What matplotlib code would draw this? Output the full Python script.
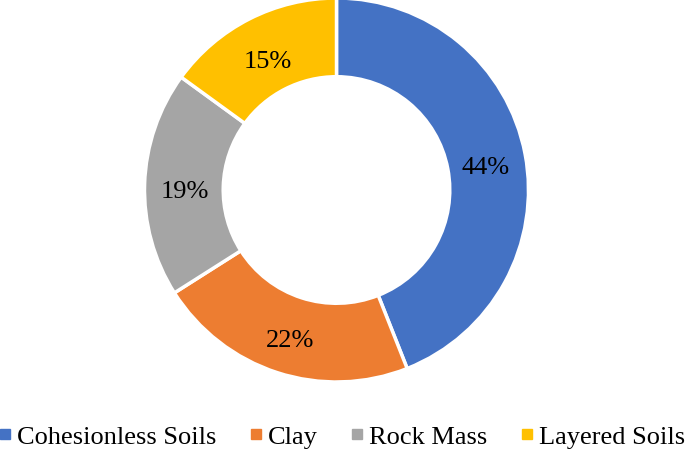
import matplotlib.pyplot as plt
from matplotlib.lines import Line2D

plt.rcParams['font.family'] = ['Liberation Serif', 'DejaVu Serif']

categories = ["Cohesionless Soils", "Clay", "Rock Mass", "Layered Soils"]
shares = [44, 22, 19, 15]
colors = ["#4472C4", "#ED7D31", "#A5A5A5", "#FFC000"]


def main():
    fig = plt.figure(figsize=(6.85, 4.52), dpi=100)
    # square axes sized to the outer ring (radius ~192 px)
    ax = fig.add_axes([(336.5 - 192) / 685, (452 - 191 - 192) / 452, 384 / 685, 384 / 452])
    wedges, texts, autotexts = ax.pie(
        shares, colors=colors, startangle=90, counterclock=False,
        radius=1.0, autopct="%d%%", pctdistance=0.79,
        wedgeprops=dict(width=0.41, edgecolor="white", linewidth=2.5),
        textprops=dict(fontsize=19, color="black"))
    for t in autotexts:  # labels sit a bit low in the original
        x, y = t.get_position()
        t.set_position((x, y - 0.03))
    ax.set_xlim(-1, 1)
    ax.set_ylim(-1, 1)
    ax.set_aspect("equal")
    ax.axis("off")

    handles = [Line2D([], [], marker="s", linestyle="", markersize=7,
                      markerfacecolor=c, markeredgecolor=c) for c in colors]
    fig.legend(handles, categories, loc="center", bbox_to_anchor=(0.5, 15 / 452),
               ncol=4, frameon=False, fontsize=19, handlelength=0.4,
               handletextpad=0.25, columnspacing=1.3)
    fig.savefig("out.png", dpi=100)


if __name__ == "__main__":
    main()
